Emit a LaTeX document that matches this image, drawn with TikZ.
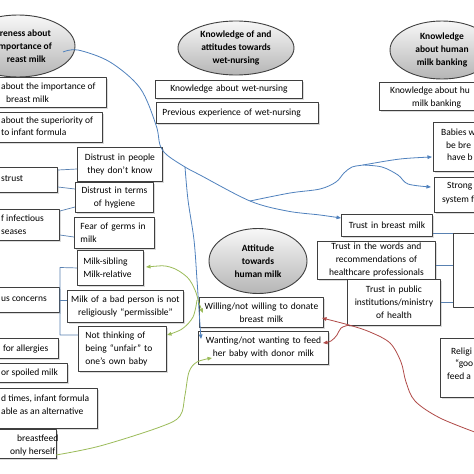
\documentclass[tikz,border=0pt]{standalone}
\usepackage{fontspec}
\setmainfont{Carlito}
\usetikzlibrary{shadows,arrows.meta,shapes.geometric}
\definecolor{cblue}{HTML}{4F81BD}
\definecolor{cgreen}{HTML}{9BBB59}
\definecolor{cred}{HTML}{B04A48}
\definecolor{cedge}{HTML}{3F3F3F}
\newcommand\fsz{\fontsize{9.5}{13}\selectfont}
\begin{document}
\begin{tikzpicture}[x=1pt,y=-1pt,line join=round,
  box/.style={draw=cedge, line width=0.9pt, fill=white, anchor=north west,
    inner xsep=3pt, inner ysep=0pt, align=center, font=\fsz,
    drop shadow={shadow xshift=1.5pt, shadow yshift=-1.5pt, fill=gray!55}},
  lbox/.style={box, align=left, inner xsep=6pt},
  ebox/.style={box, inner sep=0pt},
  ell/.style={ellipse, draw=cedge, line width=0.9pt, top color=gray!6, bottom color=gray!58,
    font=\bfseries\fsz, align=center, inner sep=0pt},
  lt/.style={inner sep=0pt, anchor=base west, font=\fsz},
  ltb/.style={inner sep=0pt, anchor=base east, font=\bfseries\fsz},
  conn/.style={line width=0.8pt},
  tip/.style={-{Triangle[length=4.5pt,width=3.6pt]}},
  brk/.style={line width=0.7pt, draw=cblue!80!gray}]
\useasboundingbox (0,0) rectangle (474,474);
\clip (0,0) rectangle (474,474);
\fill[white] (0,0) rectangle (474,474);

% ellipses
\node[ell, minimum width=114pt, minimum height=62pt] (e1) at (18,46) {};
\node[ltb] (e1a) at (51,36) {reness about};
\node[ltb] (e1b) at (52,49) {mportance of};
\node[ltb] (e1c) at (46,62) {reast milk};
\node[ell, minimum width=116pt, minimum height=54pt] (e2) at (236,48) {Knowledge of and\\attitudes towards\\wet-nursing};
\node[ell, minimum width=104pt, minimum height=58pt] (e3) at (442,50) {Knowledge\\about human\\milk banking};
\node[ell, minimum width=98pt, minimum height=65pt] (e4) at (258,261) {Attitude\\towards\\human milk};

% left clipped boxes
\node[ebox, minimum width=126pt, minimum height=30pt] (b1) at (-20,77) {};
\node[lt] (t1a) at (1,89) {about the importance of};
\node[lt] (t1b) at (6,102) {breast milk};
\node[ebox, minimum width=122pt, minimum height=30pt] (b2) at (-20,112) {};
\node[lt] (t2a) at (1,123) {about the superiority of};
\node[lt] (t2b) at (1,135) {to infant formula};
\node[ebox, minimum width=77pt, minimum height=25pt] (b3) at (-20,167) {};
\node[lt] (t3) at (1,181) {strust};
\node[ebox, minimum width=79pt, minimum height=31pt] (b6) at (-20,209) {};
\node[lt] (t6a) at (1,221) {f infectious};
\node[lt] (t6b) at (1,234) {seases};
\node[ebox, minimum width=79pt, minimum height=25pt] (b9) at (-20,287) {};
\node[lt] (t9) at (1,301) {us concerns};
\node[ebox, minimum width=78pt, minimum height=20pt] (b12) at (-20,338) {};
\node[lt] (t12) at (3,351) {for allergies};
\node[ebox, minimum width=87pt, minimum height=19pt] (b13) at (-20,363) {};
\node[lt] (t13) at (1,375) {or spoiled milk};
\node[ebox, minimum width=117pt, minimum height=40pt] (b14) at (-20,388) {};
\node[lt] (t14a) at (1,401) {d times, infant formula};
\node[lt] (t14b) at (1,414) {able as an alternative};
\node[ebox, minimum width=76pt, minimum height=29pt] (b15) at (-20,429) {};
\node[lt] (t15a) at (17,441) {breastfeed};
\node[lt] (t15b) at (10,454) {only herself};

% full boxes
\node[box, minimum width=85pt, minimum height=34pt, text width=79pt] (b4) at (77,147) {Distrust in people\\they don’t know};
\node[box, minimum width=78pt, minimum height=30pt, text width=72pt] (b5) at (75,182) {Distrust in terms\\of hygiene};
\node[lbox, minimum width=80pt, minimum height=31pt, text width=68pt] (b7) at (74,217) {Fear of germs in\\milk};
\node[lbox, minimum width=66pt, minimum height=35pt, text width=54pt] (b8) at (77,250) {Milk-sibling\\Milk-relative};
\node[box, minimum width=116pt, minimum height=32pt, text width=110pt] (b10) at (67,290) {Milk of a bad person is not\\religiously “permissible”};
\node[lbox, inner xsep=7pt, minimum width=88pt, minimum height=45pt, text width=74pt] (b11) at (78,326) {Not thinking of\\being “unfair” to\\one’s own baby};
\node[box, minimum width=147pt, minimum height=18pt, text width=141pt] (b16) at (155,80) {Knowledge about wet-nursing};
\node[lbox, minimum width=162pt, minimum height=21pt, text width=150pt] (b17) at (156,102) {Previous experience of wet-nursing};
\node[box, minimum width=91pt, minimum height=22pt, text width=85pt] (b18) at (341,214) {Trust in breast milk};
\node[box, minimum width=118pt, minimum height=38pt, text width=112pt] (b19) at (317,241) {Trust in the words and\\recommendations of\\healthcare professionals};
\node[box, minimum width=93pt, minimum height=46pt, text width=87pt] (b20) at (347,279) {Trust in public\\institutions/ministry\\of health};
\node[box, minimum width=124pt, minimum height=30pt, text width=118pt] (b25) at (199,297) {Willing/not willing to donate\\breast milk};
\node[box, minimum width=130pt, minimum height=33pt, text width=124pt] (b26) at (198,331) {Wanting/not wanting to feed\\her baby with donor milk};

% right clipped boxes
\node[ebox, minimum width=150pt, minimum height=28pt] (b21) at (379,82) {};
\node[lt] (t21a) at (390,93) {Knowledge about hu};
\node[lt] (t21b) at (412,106) {milk banking};
\node[ebox, minimum width=100pt, minimum height=49pt] (b22) at (433,122) {};
\node[lt] (t22a) at (441,135) {Babies w};
\node[lt] (t22b) at (446,148) {be bre};
\node[lt] (t22c) at (447,160) {have b};
\node[ebox, minimum width=100pt, minimum height=35pt] (b23) at (434,177) {};
\node[lt] (t23a) at (447,188) {Strong};
\node[lt] (t23b) at (442,202) {system f};
\node[ebox, minimum width=100pt, minimum height=59pt] (b24) at (440,338) {};
\node[lt] (t24a) at (451,354) {Religi};
\node[lt] (t24b) at (455,366) {“goo};
\node[lt] (t24c) at (447,379) {feed a};
% partly visible bracket box at the right edge
\coordinate (b27nw) at (453,233);
\coordinate (b27sw) at (453,307);
\fill[white] (b27nw) rectangle (480,307);
\draw[draw=cedge, line width=0.9pt] (490,233) -- (b27nw) -- (b27sw) -- (490,307);

% bracket lines
\draw[brk] (b3.east |- 0,170) -- (b4.west |- 0,169);
\draw[brk] (b3.east |- 0,187) -- (b5.west |- 0,189);
\draw[brk] (b6.east |- 0,211) -- (b5.west |- 0,207);
\draw[brk] (b6.east |- 0,235) -- (b7.west |- 0,237);
\coordinate (k9) at (60,267.5);
\draw[brk] (b8.west) -- (k9) -- (k9 |- 0,335) -- (b11.west |- 0,335);
\draw[brk] (b9.east |- 0,300) -- (b10.west |- 0,300);
\draw[brk] (b18.east |- 0,233) -- (b27nw);
\draw[brk] (b19.east |- 0,265) -- (b27nw |- 0,265);
\draw[brk] (b20.east |- 0,302) -- (b27nw |- 0,302);

% connector coordinates
\coordinate (s1) at (63,52);
\coordinate (j1) at (250,201);
\coordinate (j2) at (363,165);
\coordinate (j3) at (185,167);
\coordinate (a18) at (341,218);
\coordinate (a22) at (432,157);
\coordinate (a23) at (431,187);
\coordinate (a26) at (201,339);
\coordinate (g8) at (146,267);
\coordinate (g25) at (203,313);
\coordinate (g25b) at (197,300);
\coordinate (g11) at (167,335);
\coordinate (g15) at (56,455);
\coordinate (g26) at (212,358);
\coordinate (r0) at (480,434);
\coordinate (r25) at (322,318);
\coordinate (rj) at (349,325);
\coordinate (r26) at (323,343);

% blue
\draw[conn, cblue, tip] plot[smooth, tension=0.55] coordinates {(s1) (78,50) (110,62) (140,88) (156,125) (160,145) (167,155) (j3) (200,175) (j1) (287,211) (320,215) (a18)};
\draw[conn, cblue, tip] plot[smooth, tension=0.55] coordinates {(j1) (290,193) (320,189) (336,182) (344,173) (352,167) (j2) (400,159) (a22)};
\draw[conn, cblue, tip] plot[smooth, tension=0.55] coordinates {(j2) (382,167) (398,175) (408,184) (a23)};
\draw[conn, cblue, tip] plot[smooth, tension=0.55] coordinates {(j3) (188,200) (194,240) (197,280) (199,310) (a26)};

% green
\draw[conn, cgreen, {Triangle[length=4.5pt,width=3.6pt]}-{Triangle[length=4.5pt,width=3.6pt]}] plot[smooth, tension=0.55] coordinates {(g8) (170,267) (187,277) (195,290) (199,303) (g25)};
\draw[conn, cgreen, tip] plot[smooth, tension=0.55] coordinates {(g25b) (193,317) (182,329) (g11)};
\draw[conn, cgreen, tip] plot[smooth, tension=0.55] coordinates {(g15) (100,446) (160,427) (180,416) (185,395) (189,372) (197,362) (g26)};

% red
\draw[conn, cred, tip] plot[smooth, tension=0.55] coordinates {(r0) (440,418) (415,401) (406,382) (401,362) (390,343) (370,332) (rj) (r25)};
\draw[conn, cred, tip] plot[smooth, tension=0.55] coordinates {(rj) (341,328) (337,335) (331,341) (r26)};
\end{tikzpicture}
\end{document}
